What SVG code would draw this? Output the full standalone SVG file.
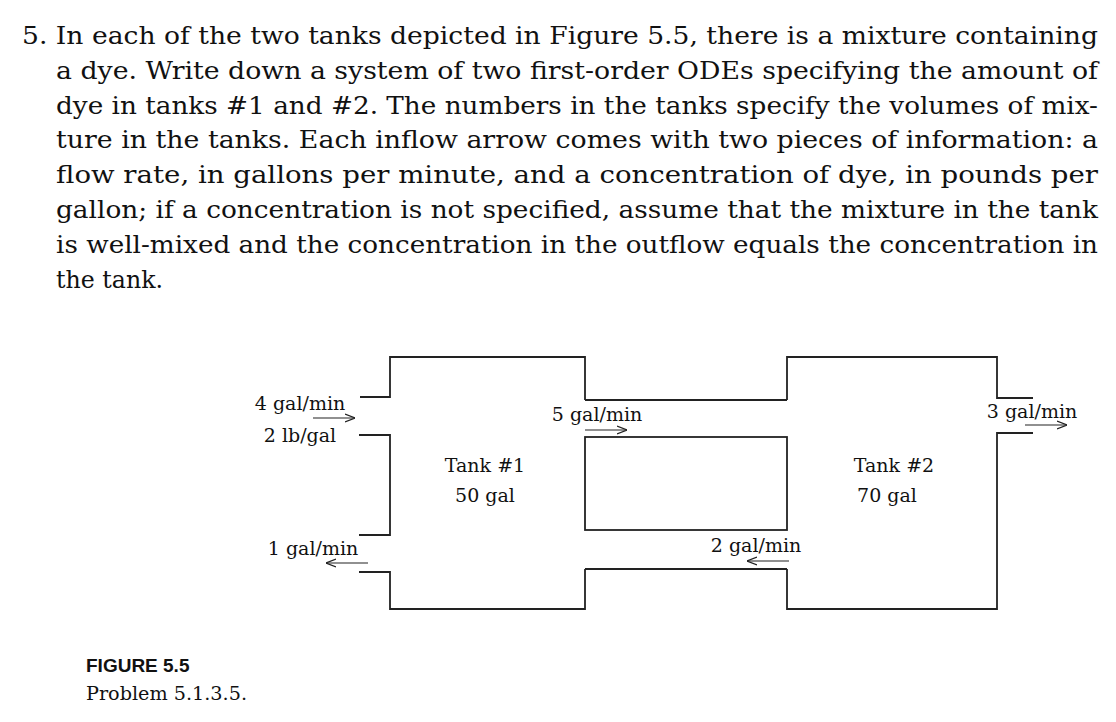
<svg xmlns="http://www.w3.org/2000/svg" width="1116" height="722" viewBox="0 0 1116 722">
<defs>
<marker id="ah" viewBox="0 0 10 10" refX="10" refY="5" markerWidth="10" markerHeight="10" markerUnits="userSpaceOnUse" orient="auto-start-reverse">
<path d="M0,1 L10,5 L0,9" fill="none" stroke="#222" stroke-width="1.2"/>
</marker>
<style>
.p{font-family:"DejaVu Serif",serif;font-size:25px;fill:#111}
.l{font-family:"DejaVu Serif",serif;font-size:19px;fill:#111}
.w{fill:none;stroke:#222;stroke-width:1.8}
.a{fill:none;stroke:#222;stroke-width:1.2;marker-end:url(#ah)}
</style>
</defs>
<rect width="1116" height="722" fill="#fff"/>
<g id="problem">
<text class="p" x="22" y="44" textLength="1076" lengthAdjust="spacingAndGlyphs">5. In each of the two tanks depicted in Figure 5.5, there is a mixture containing</text>
<text class="p" x="56" y="79" textLength="1042" lengthAdjust="spacingAndGlyphs">a dye. Write down a system of two first-order ODEs specifying the amount of</text>
<text class="p" x="56" y="114" textLength="1042" lengthAdjust="spacingAndGlyphs">dye in tanks #1 and #2. The numbers in the tanks specify the volumes of mix-</text>
<text class="p" x="56" y="148" textLength="1042" lengthAdjust="spacingAndGlyphs">ture in the tanks. Each inflow arrow comes with two pieces of information: a</text>
<text class="p" x="56" y="183" textLength="1042" lengthAdjust="spacingAndGlyphs">flow rate, in gallons per minute, and a concentration of dye, in pounds per</text>
<text class="p" x="56" y="218" textLength="1042" lengthAdjust="spacingAndGlyphs">gallon; if a concentration is not specified, assume that the mixture in the tank</text>
<text class="p" x="56" y="253" textLength="1042" lengthAdjust="spacingAndGlyphs">is well-mixed and the concentration in the outflow equals the concentration in</text>
<text class="p" x="56" y="288" textLength="107" lengthAdjust="spacingAndGlyphs">the tank.</text>
</g>
<g id="tank1">
<path class="w" d="M360,397 H390 V357 H585 V400"/>
<path class="w" d="M359,435 H390 V535 H359"/>
<path class="w" d="M359,572 H390 V609 H585 V569"/>
<text class="l" x="485" y="472" text-anchor="middle">Tank #1</text>
<text class="l" x="485" y="502" text-anchor="middle">50 gal</text>
</g>
<g id="tank2">
<path class="w" d="M787,400 V357 H997 V398 H1033"/>
<path class="w" d="M1033,433 H997 V609 H787 V569"/>
<text class="l" x="894" y="472" text-anchor="middle">Tank #2</text>
<text class="l" x="887" y="502" text-anchor="middle">70 gal</text>
</g>
<g id="pipes">
<path class="w" d="M585,400 H787"/>
<rect class="w" x="585" y="437" width="202" height="93"/>
<path class="w" d="M585,569 H787"/>
</g>
<g id="connectors">
<line class="a" x1="313" y1="418" x2="355" y2="418"/>
<line class="a" x1="585" y1="430" x2="627" y2="430"/>
<line class="a" x1="368" y1="563" x2="326" y2="563"/>
<line class="a" x1="789" y1="561" x2="747" y2="561"/>
<line class="a" x1="1025" y1="425" x2="1067" y2="425"/>
</g>
<g id="labels">
<text class="l" x="300" y="410" text-anchor="middle">4 gal/min</text>
<text class="l" x="300" y="442" text-anchor="middle">2 lb/gal</text>
<text class="l" x="597" y="421" text-anchor="middle">5 gal/min</text>
<text class="l" x="313" y="555" text-anchor="middle">1 gal/min</text>
<text class="l" x="756" y="552" text-anchor="middle">2 gal/min</text>
<text class="l" x="1032" y="418" text-anchor="middle">3 gal/min</text>
</g>
<g id="caption">
<text x="86" y="672" style="font-family:'Liberation Sans',sans-serif;font-weight:bold;font-size:19px;fill:#111">FIGURE 5.5</text>
<text x="86" y="700" textLength="161" lengthAdjust="spacingAndGlyphs" style="font-family:'DejaVu Serif',serif;font-size:19px;fill:#111">Problem 5.1.3.5.</text>
</g>
</svg>
